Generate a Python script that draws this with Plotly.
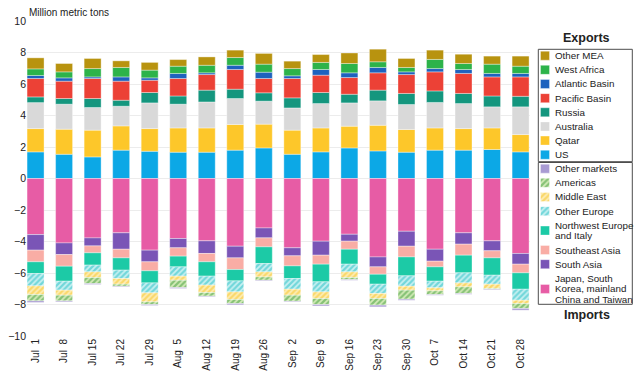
import plotly.graph_objects as go

# ---------------- data (million metric tons) ----------------
weeks = ["Jul\u00a0\u00a01", "Jul\u00a0\u00a08", "Jul 15", "Jul 22", "Jul 29",
         "Aug\u00a0\u00a05", "Aug 12", "Aug 19", "Aug 26", "Sep\u00a0\u00a02",
         "Sep\u00a0\u00a09", "Sep 16", "Sep 23", "Sep 30", "Oct\u00a0\u00a07",
         "Oct 14", "Oct 21", "Oct 28"]

# Exports (stacked upward from zero, bottom to top)
us = [1.69, 1.54, 1.37, 1.80, 1.73, 1.67, 1.67, 1.80, 1.94, 1.54, 1.69, 1.94, 1.75, 1.67, 1.80, 1.80, 1.84, 1.69]
qatar = [1.48, 1.59, 1.70, 1.54, 1.44, 1.54, 1.54, 1.63, 1.51, 1.53, 1.52, 1.38, 1.63, 1.44, 1.41, 1.37, 1.37, 1.10]
australia = [1.65, 1.59, 1.44, 1.25, 1.63, 1.51, 1.65, 1.65, 1.46, 1.41, 1.55, 1.48, 1.55, 1.59, 1.62, 1.59, 1.34, 1.76]
russia = [0.36, 0.36, 0.57, 0.38, 0.66, 0.52, 0.75, 0.59, 0.53, 0.64, 0.70, 0.55, 0.68, 0.70, 0.73, 0.64, 0.69, 0.67]
pacific_basin = [1.17, 1.10, 1.27, 1.21, 0.78, 1.11, 0.99, 1.25, 0.91, 1.23, 1.10, 1.06, 1.10, 1.20, 1.21, 1.27, 1.21, 1.23]
atlantic_basin = [0.19, 0.21, 0.10, 0.27, 0.15, 0.32, 0.11, 0.27, 0.40, 0.17, 0.36, 0.30, 0.34, 0.17, 0.21, 0.25, 0.22, 0.22]
west_africa = [0.42, 0.38, 0.53, 0.60, 0.49, 0.46, 0.48, 0.49, 0.51, 0.46, 0.45, 0.59, 0.36, 0.28, 0.58, 0.38, 0.59, 0.46]
other_mea = [0.70, 0.53, 0.64, 0.42, 0.49, 0.42, 0.53, 0.47, 0.68, 0.47, 0.50, 0.67, 0.80, 0.57, 0.59, 0.59, 0.51, 0.64]

# Imports (shown below zero, from zero downward)
japan_korea_china_taiwan = [3.56, 4.09, 3.77, 3.45, 4.55, 3.81, 3.96, 4.30, 3.14, 4.40, 3.98, 3.54, 4.98, 3.35, 4.49, 3.45, 3.96, 4.76]
south_asia = [0.99, 0.74, 0.51, 1.04, 0.74, 0.59, 0.80, 0.74, 0.63, 0.51, 0.89, 0.44, 0.63, 0.95, 0.76, 0.72, 0.63, 0.68]
southeast_asia = [0.74, 0.74, 0.44, 0.55, 0.57, 0.53, 0.53, 0.74, 0.57, 0.64, 0.57, 0.51, 0.47, 0.68, 0.36, 0.70, 0.45, 0.55]
nw_europe_italy = [0.74, 0.95, 0.78, 0.78, 0.77, 0.68, 0.91, 0.72, 1.06, 0.80, 1.12, 0.95, 0.63, 1.20, 0.91, 1.12, 1.10, 1.04]
other_europe = [0.79, 0.57, 0.43, 0.53, 0.63, 0.59, 0.57, 0.70, 0.53, 0.68, 0.64, 0.49, 0.59, 0.66, 0.42, 0.64, 0.57, 0.70]
middle_east = [0.55, 0.32, 0.36, 0.36, 0.57, 0.26, 0.47, 0.48, 0.32, 0.38, 0.42, 0.36, 0.32, 0.25, 0.19, 0.25, 0.27, 0.21]
americas = [0.40, 0.36, 0.38, 0.13, 0.17, 0.46, 0.23, 0.26, 0.21, 0.38, 0.38, 0.13, 0.42, 0.57, 0.24, 0.42, 0.05, 0.31]
other_markets = [0.10, 0.06, 0.06, 0.04, 0.06, 0.06, 0.04, 0.08, 0.04, 0.04, 0.09, 0.04, 0.11, 0.07, 0.04, 0.05, 0.04, 0.11]

y_ticks = [-10, -8, -6, -4, -2, 0, 2, 4, 6, 8, 10]

# ---------------- styling ----------------
FONT = "Liberation Sans, Arial, Helvetica, sans-serif"
TXT = "#222222"

export_series = [  # (label, values, color, hatch background) bottom -> top
    ("US", us, "#0CA8E6", None),
    ("Qatar", qatar, "#FDC72A", None),
    ("Australia", australia, "#D9D9D9", None),
    ("Russia", russia, "#14967E", None),
    ("Pacific Basin", pacific_basin, "#EC4136", None),
    ("Atlantic Basin", atlantic_basin, "#1E62BE", None),
    ("West Africa", west_africa, "#2DB34A", None),
    ("Other MEA", other_mea, "#B8930F", None),
]
import_series = [  # zero -> downward
    ("Japan, South<br>Korea, mainland<br>China and Taiwan", japan_korea_china_taiwan, "#E75CA5", None),
    ("South Asia", south_asia, "#7A55B6", None),
    ("Southeast Asia", southeast_asia, "#F9ADA5", None),
    ("Northwest Europe<br>and Italy", nw_europe_italy, "#1CCAA6", None),
    ("Other Europe", other_europe, "#1CBEC3", "#c8f0f1"),
    ("Middle East", middle_east, "#F7C21C", "#fdedb6"),
    ("Americas", americas, "#379834", "#d4ebb8"),
    ("Other markets", other_markets, "#A99BD3", None),
]

W, H = 640, 381
ML, MR, MT, MB = 27, 4, 21, 45
PW = W - ML - MR
PH = H - MT - MB


def fx(px):
    return (px - ML) / PW


def fy(py):
    return (H - MB - py) / PH


def marker_for(color, hatch_bg):
    m = dict(color=color, line=dict(width=0.6, color="rgba(255,255,255,0.6)"))
    if hatch_bg:
        m["pattern"] = dict(shape="/", fgcolor=color, bgcolor=hatch_bg,
                            size=4, solidity=0.55)
    return m


fig = go.Figure()

for label, vals, color, hb in export_series:
    fig.add_bar(x=weeks, y=vals, name=label.replace("<br>", " "),
                marker=marker_for(color, hb), showlegend=False)
for label, vals, color, hb in import_series:
    fig.add_bar(x=weeks, y=[-v for v in vals], name=label.replace("<br>", " "),
                marker=marker_for(color, hb), showlegend=False)

# ---------------- custom legend (two boxed groups) ----------------
LX0, LX1 = 538.3, 632.3
SWATCH = 9
SW_CX = 545.0
TEXT_X = 552.5
ITEM_H = 14.15
LINE_H = 10.6
LEG_FONT = dict(family=FONT, size=9.8, color=TXT)


def draw_legend(entries, top):
    y = top
    for label, _vals, color, hb in entries:
        lines = label.split("<br>")
        h = ITEM_H + (len(lines) - 1) * LINE_H
        c = y + h / 2
        fig.add_bar(x=[SW_CX], y=[SWATCH], base=[c - SWATCH / 2], width=[SWATCH],
                    xaxis="x2", yaxis="y2", marker=marker_for(color, hb),
                    showlegend=False, hoverinfo="skip")
        for k, line in enumerate(lines):
            ly = c + (k - (len(lines) - 1) / 2) * LINE_H
            fig.add_annotation(x=fx(TEXT_X), y=fy(ly), xref="paper", yref="paper",
                               text=line, showarrow=False, xanchor="left",
                               yanchor="middle", font=LEG_FONT)
        y += h


draw_legend(list(reversed(export_series)), 48.6)
draw_legend(list(reversed(import_series)), 161.6)

for (y0, y1) in [(49.3, 161.7), (162.5, 304.3)]:
    fig.add_shape(type="rect", xref="paper", yref="paper",
                  x0=fx(LX0), x1=fx(LX1), y0=fy(y1), y1=fy(y0),
                  line=dict(color="#4d4d4d", width=1), fillcolor="rgba(0,0,0,0)")

fig.add_annotation(x=fx(586.5), y=fy(38.3), xref="paper", yref="paper",
                   text="<b>Exports</b>", showarrow=False, xanchor="center",
                   yanchor="middle", font=dict(family=FONT, size=12.5, color=TXT))
fig.add_annotation(x=fx(586.5), y=fy(314.5), xref="paper", yref="paper",
                   text="<b>Imports</b>", showarrow=False, xanchor="center",
                   yanchor="middle", font=dict(family=FONT, size=12.5, color=TXT))
fig.add_annotation(x=0, y=fy(12.7), xref="paper", yref="paper",
                   text="Million metric tons", showarrow=False, xanchor="left",
                   yanchor="middle", font=dict(family=FONT, size=10, color=TXT))

fig.update_layout(
    width=W, height=H, autosize=False,
    margin=dict(l=ML, r=MR, t=MT, b=MB, pad=0),
    barmode="relative", bargap=0.405,
    plot_bgcolor="white", paper_bgcolor="white",
    font=dict(family=FONT, size=10, color=TXT),
    showlegend=False,
    xaxis=dict(domain=[0, fx(530)], range=[-0.3, 17.33], tickangle=-90,
               showgrid=False, zeroline=False, showline=False, ticks="",
               tickfont=dict(family=FONT, size=10, color=TXT)),
    yaxis=dict(range=[-10, 10], tickvals=y_ticks, showgrid=True,
               gridcolor="#ececec", gridwidth=1, zeroline=False, showline=False,
               ticks="", tickfont=dict(family=FONT, size=10.5, color=TXT)),
    xaxis2=dict(domain=[fx(LX0 - 2), 1], range=[LX0 - 2, ML + PW], visible=False,
                fixedrange=True, anchor="y2"),
    yaxis2=dict(domain=[0, 1], range=[H - MB, MT], visible=False,
                fixedrange=True, anchor="x2"),
)

fig.write_html("out.html",
               config={"displayModeBar": False},
               post_script="document.body.style.margin='0px';"
                           "document.body.style.overflow='hidden';")
